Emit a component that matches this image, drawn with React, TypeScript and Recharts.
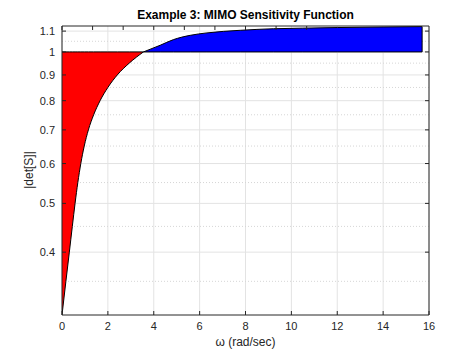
import React from 'react';
import { ComposedChart, Area, XAxis, YAxis, CartesianGrid, ReferenceLine } from 'recharts';

// frequency (rad/sec) and |det S|
const omega = [0, 0.17, 0.32, 0.45, 0.57, 0.69, 0.82, 0.97, 1.15, 1.38, 1.66, 2.0, 2.41, 2.93, 3.55, 4.28, 4.86, 5.59, 6.32, 7.77, 9.23, 10.5, 12, 14, 15.7];
const detS = [0.3, 0.35, 0.4, 0.45, 0.5, 0.55, 0.6, 0.65, 0.7, 0.75, 0.8, 0.85, 0.9, 0.95, 1.0, 1.031, 1.058, 1.079, 1.091, 1.104, 1.112, 1.115, 1.118, 1.121, 1.123];

const xTicks = [0, 2, 4, 6, 8, 10, 12, 14, 16];
const yTicks = [0.4, 0.5, 0.6, 0.7, 0.8, 0.9, 1, 1.1];
const yMinor = [0.35, 0.45, 0.55, 0.65, 0.75, 0.85, 0.95, 1.05];
const yDomain = [0.3, 1.126];

const AX = '#262626';
const FONT = '"Liberation Sans", Arial, sans-serif';

const data = omega.map((w, i) => {
  const v = detS[i];
  return {
    w,
    below: v <= 1 ? [v, 1] : null,
    above: v >= 1 ? [1, v] : null,
  };
});

const lastW = omega[omega.length - 1];
const lastV = detS[detS.length - 1];

const LeftTick = (p: any) => (
  <g>
    <line x1={p.x + 7} x2={p.x + 11} y1={p.y} y2={p.y} stroke={AX} />
    <text x={p.x} y={p.y} dy="0.36em" textAnchor="end" fontSize={11} fill={AX} fontFamily={FONT}>
      {String(p.payload.value)}
    </text>
  </g>
);

const BottomTick = (p: any) => (
  <g>
    <line x1={p.x} x2={p.x} y1={p.y - 6} y2={p.y - 10} stroke={AX} />
    <text x={p.x} y={p.y} dy="0.78em" textAnchor="middle" fontSize={11} fill={AX} fontFamily={FONT}>
      {String(p.payload.value)}
    </text>
  </g>
);

const RightTick = (p: any) => (
  <line x1={p.x} x2={p.x - 4} y1={p.y} y2={p.y} stroke={AX} />
);

const TopTick = (p: any) => (
  <line x1={p.x} x2={p.x} y1={p.y} y2={p.y + 4} stroke={AX} />
);

export default function App() {
  return (
    <div style={{ position: 'absolute', left: 0, top: 0, width: 474, height: 355, background: '#fff' }}>
      <ComposedChart width={474} height={355} data={data} margin={{ top: 0, right: 0, bottom: 0, left: 0 }}>
        <CartesianGrid xAxisId="b" yAxisId="l" stroke="#e3e3e3" horizontalValues={yTicks} verticalValues={xTicks} />
        <CartesianGrid xAxisId="b" yAxisId="l" stroke="#d6d6d6" strokeDasharray="1 2" vertical={false} horizontalValues={yMinor} />
        <XAxis
          xAxisId="b"
          dataKey="w"
          type="number"
          domain={[0, 16]}
          ticks={xTicks}
          interval={0}
          height={40}
          stroke={AX}
          tickLine={false}
          tickSize={0}
          tickMargin={6}
          tick={<BottomTick />}
          allowDataOverflow
        />
        <XAxis
          xAxisId="t"
          orientation="top"
          type="number"
          domain={[0, 16]}
          ticks={xTicks}
          interval={0}
          height={26}
          stroke={AX}
          tickLine={false}
          tickSize={0}
          tickMargin={0}
          tick={<TopTick />}
          allowDataOverflow
        />
        <YAxis
          yAxisId="l"
          scale="log"
          type="number"
          domain={yDomain}
          ticks={yTicks}
          interval={0}
          width={62}
          stroke={AX}
          tickLine={false}
          tickSize={0}
          tickMargin={7}
          tick={<LeftTick />}
          allowDataOverflow
        />
        <YAxis
          yAxisId="r"
          orientation="right"
          scale="log"
          type="number"
          domain={yDomain}
          ticks={yTicks}
          interval={0}
          width={45}
          stroke={AX}
          tickLine={false}
          tickSize={0}
          tickMargin={0}
          tick={<RightTick />}
          allowDataOverflow
        />
        <Area
          xAxisId="b"
          yAxisId="l"
          type="monotone"
          dataKey="below"
          fill="#ff0000"
          fillOpacity={1}
          stroke="#000"
          strokeWidth={1}
          isAnimationActive={false}
        />
        <Area
          xAxisId="b"
          yAxisId="l"
          type="monotone"
          dataKey="above"
          fill="#0000ff"
          fillOpacity={1}
          stroke="#000"
          strokeWidth={1}
          isAnimationActive={false}
        />
        <ReferenceLine
          xAxisId="b"
          yAxisId="l"
          segment={[{ x: lastW, y: 1 }, { x: lastW, y: lastV }]}
          stroke="#000"
          ifOverflow="visible"
        />
      </ComposedChart>
      <svg width={474} height={355} style={{ position: 'absolute', left: 0, top: 0, pointerEvents: 'none' }}>
        <text x={245.5} y={15} dy="0.36em" textAnchor="middle" fontSize={12} fontWeight="bold" fill="#000" fontFamily={FONT}>
          Example 3: MIMO Sensitivity Function
        </text>
        <text x={245.5} y={342} dy="0.36em" textAnchor="middle" fontSize={12} fill={AX} fontFamily={FONT}>
          ω (rad/sec)
        </text>
        <text x={29} y={170} dy="0.36em" textAnchor="middle" fontSize={12} fill={AX} fontFamily={FONT} transform="rotate(-90 29 170)">
          |det[S]|
        </text>
      </svg>
    </div>
  );
}
